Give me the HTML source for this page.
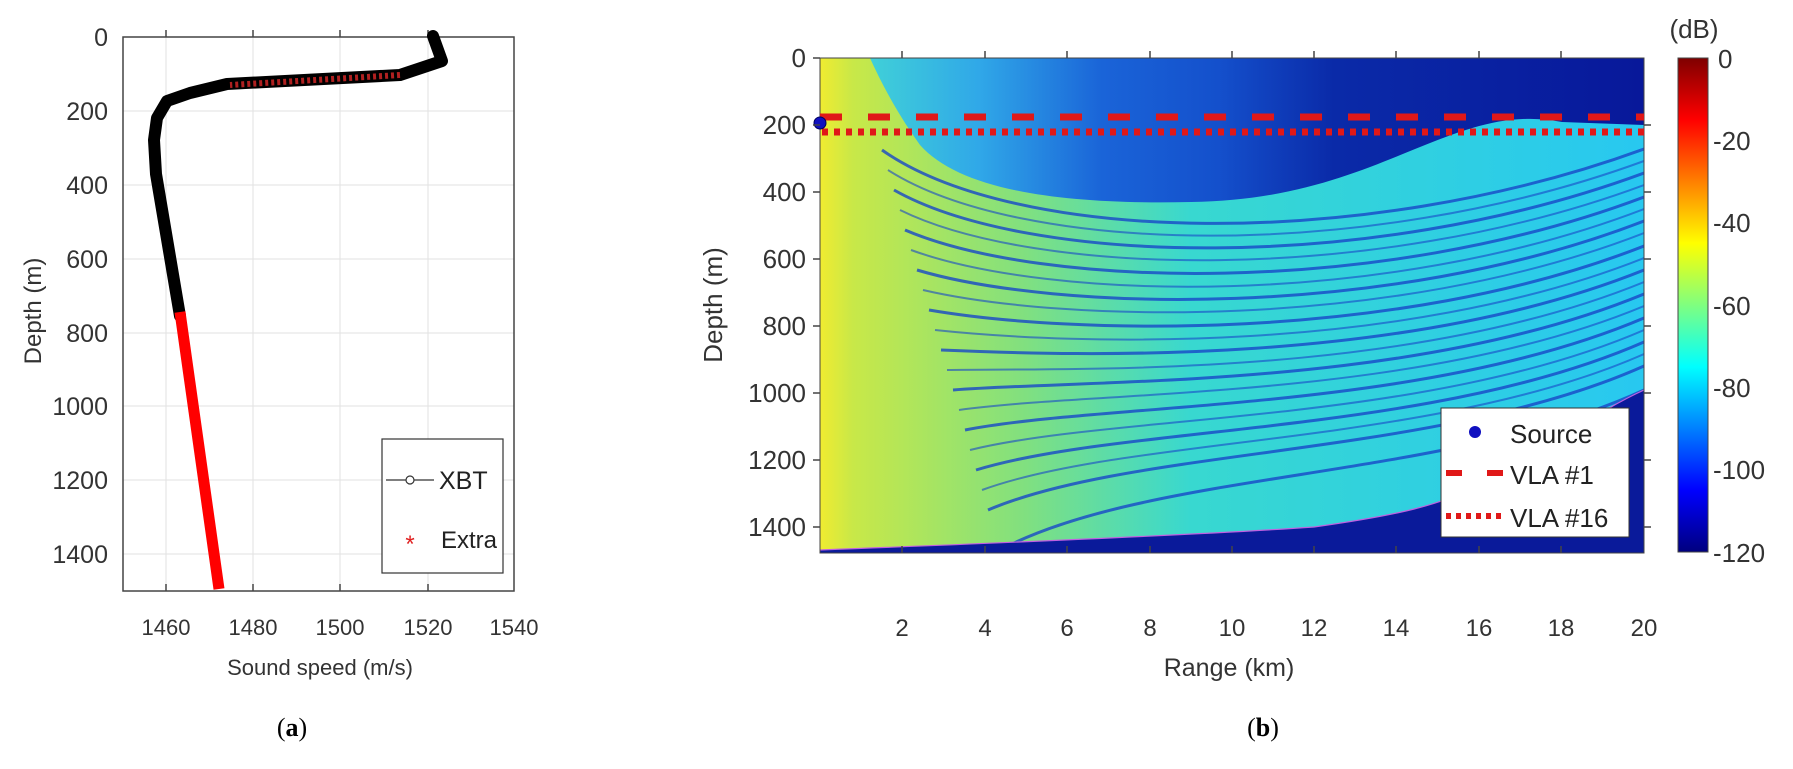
<!DOCTYPE html>
<html><head><meta charset="utf-8"><style>
html,body{margin:0;padding:0;background:#fff;}
svg{display:block;font-family:"Liberation Sans",Arial,sans-serif;}
</style></head><body>
<svg width="1793" height="769" viewBox="0 0 1793 769" xmlns="http://www.w3.org/2000/svg">
<defs>
<linearGradient id="jet" x1="0" y1="0" x2="0" y2="1">
<stop offset="0" stop-color="#7f0000"/><stop offset="0.125" stop-color="#ff0000"/>
<stop offset="0.375" stop-color="#ffff00"/><stop offset="0.625" stop-color="#00ffff"/>
<stop offset="0.875" stop-color="#0000ff"/><stop offset="1" stop-color="#00007f"/>
</linearGradient>
<linearGradient id="field" x1="0" y1="0" x2="1" y2="0">
<stop offset="0" stop-color="#f0ec30"/><stop offset="0.04" stop-color="#c8e848"/>
<stop offset="0.25" stop-color="#80e080"/><stop offset="0.45" stop-color="#38d8d0"/>
<stop offset="1" stop-color="#28c8f0"/>
</linearGradient>
<linearGradient id="topblue" x1="0" y1="0" x2="1" y2="0">
<stop offset="0" stop-color="#40d0d8"/><stop offset="0.14" stop-color="#30a8e8"/>
<stop offset="0.3" stop-color="#1a64d8"/><stop offset="0.45" stop-color="#1450cc"/>
<stop offset="0.6" stop-color="#0a2aa8"/><stop offset="1" stop-color="#08189a"/>
</linearGradient>
<clipPath id="cp"><rect x="820" y="58" width="824" height="495"/></clipPath>
</defs>

<!-- ===== Left plot (a) ===== -->
<g stroke="#e2e2e2" stroke-width="1">
<line x1="166" y1="37" x2="166" y2="591"/><line x1="253" y1="37" x2="253" y2="591"/>
<line x1="340" y1="37" x2="340" y2="591"/><line x1="428" y1="37" x2="428" y2="591"/>
<line x1="123" y1="111" x2="514" y2="111"/><line x1="123" y1="185" x2="514" y2="185"/>
<line x1="123" y1="259" x2="514" y2="259"/><line x1="123" y1="333" x2="514" y2="333"/>
<line x1="123" y1="406" x2="514" y2="406"/><line x1="123" y1="480" x2="514" y2="480"/>
<line x1="123" y1="554" x2="514" y2="554"/>
</g>
<rect x="123" y="37" width="391" height="554" fill="none" stroke="#444" stroke-width="1.5"/>
<g stroke="#444" stroke-width="1.5">
<line x1="166" y1="37" x2="166" y2="30"/><line x1="253" y1="37" x2="253" y2="30"/><line x1="340" y1="37" x2="340" y2="30"/><line x1="428" y1="37" x2="428" y2="30"/>
<line x1="166" y1="591" x2="166" y2="584"/><line x1="253" y1="591" x2="253" y2="584"/><line x1="340" y1="591" x2="340" y2="584"/><line x1="428" y1="591" x2="428" y2="584"/>
</g>
<polyline points="433,36 442,61 400,75 227,84 190,93 167,101 157,118 154,140 156,174 168,245 180,316" fill="none" stroke="#000" stroke-width="12" stroke-linejoin="round" stroke-linecap="round"/>
<polyline points="400,75 230,85" fill="none" stroke="#b02020" stroke-width="6" stroke-dasharray="3 3"/>
<line x1="180" y1="312" x2="219" y2="589" stroke="#ff0000" stroke-width="11"/>
<g font-size="25" fill="#333" text-anchor="end">
<text x="108" y="46">0</text><text x="108" y="120">200</text><text x="108" y="194">400</text>
<text x="108" y="268">600</text><text x="108" y="342">800</text><text x="108" y="415">1000</text>
<text x="108" y="489">1200</text><text x="108" y="563">1400</text>
</g>
<g font-size="22" fill="#333" text-anchor="middle">
<text x="166" y="635">1460</text><text x="253" y="635">1480</text><text x="340" y="635">1500</text>
<text x="428" y="635">1520</text><text x="514" y="635">1540</text>
</g>
<text x="320" y="675" font-size="22" fill="#333" text-anchor="middle">Sound speed (m/s)</text>
<text transform="translate(41,311) rotate(-90)" font-size="24" fill="#333" text-anchor="middle">Depth (m)</text>
<rect x="382" y="439" width="121" height="134" fill="#fff" stroke="#333" stroke-width="1.2"/>
<line x1="386" y1="480" x2="434" y2="480" stroke="#333" stroke-width="1.2"/>
<circle cx="410" cy="480" r="4" fill="#fff" stroke="#333" stroke-width="1.2"/>
<text x="439" y="489" font-size="25" fill="#222">XBT</text>
<text x="410" y="552" font-size="24" fill="#e02020" text-anchor="middle">*</text>
<text x="441" y="548" font-size="24" fill="#222">Extra</text>

<!-- ===== Right plot (b) ===== -->
<g clip-path="url(#cp)">
<rect x="820" y="58" width="824" height="495" fill="url(#field)"/>
<path d="M870,58 L1644,58 L1644,125 L1562,122 C1450,100 1380,200 1191,202 C1060,205 960,190 920,145 C895,110 880,80 870,58 Z" fill="url(#topblue)"/>
<g fill="none" stroke="#1848c8" stroke-width="3" opacity="0.8">
<path d="M882,150 C1014,243 1359,253 1644,149"/>
<path d="M894,190 C1027,265 1368,275 1644,173"/>
<path d="M905,230 C1041,288 1377,298 1644,197"/>
<path d="M917,270 C1055,311 1386,321 1644,221"/>
<path d="M929,310 C1068,334 1395,344 1644,246"/>
<path d="M941,350 C1082,356 1405,366 1644,270"/>
<path d="M953,390 C1095,379 1414,389 1644,294"/>
<path d="M965,430 C1109,402 1423,412 1644,318"/>
<path d="M976,470 C1123,425 1432,435 1644,342"/>
<path d="M988,510 C1136,447 1441,457 1644,366"/>
<path d="M1000,550 C1150,470 1450,480 1644,390"/>
</g>
<g fill="none" stroke="#1848c8" stroke-width="2" opacity="0.6">
<path d="M888,170 C1020,254 1363,264 1644,161"/>
<path d="M900,210 C1034,276 1372,286 1644,185"/>
<path d="M911,250 C1048,300 1381,310 1644,209"/>
<path d="M923,290 C1061,322 1390,332 1644,233"/>
<path d="M935,330 C1075,345 1400,355 1644,258"/>
<path d="M947,370 C1088,368 1409,378 1644,282"/>
<path d="M959,410 C1102,390 1418,400 1644,306"/>
<path d="M970,450 C1116,414 1427,424 1644,330"/>
<path d="M982,490 C1130,436 1436,446 1644,354"/>
</g>
<path d="M820,553 L820,550 C950,545 1200,535 1314,527 C1400,515 1440,505 1480,485 C1560,440 1600,410 1644,390 L1644,553 Z" fill="#0a1a9a"/>
<path d="M820,550 C950,545 1200,535 1314,527 C1400,515 1440,505 1480,485 C1560,440 1600,410 1644,390" fill="none" stroke="#c060e0" stroke-width="1.2"/>
</g>
<rect x="820" y="58" width="824" height="495" fill="none" stroke="#444" stroke-width="1"/>
<line x1="820" y1="117" x2="1644" y2="117" stroke="#e01818" stroke-width="7" stroke-dasharray="22 26"/>
<line x1="822" y1="132" x2="1644" y2="132" stroke="#e01818" stroke-width="7" stroke-dasharray="6 6"/>
<circle cx="820" cy="123" r="6" fill="#1010c0" stroke="#000060" stroke-width="1"/>
<g stroke="#444" stroke-width="1.5">
<line x1="902" y1="553" x2="902" y2="546"/><line x1="985" y1="553" x2="985" y2="546"/><line x1="1067" y1="553" x2="1067" y2="546"/>
<line x1="1150" y1="553" x2="1150" y2="546"/><line x1="1232" y1="553" x2="1232" y2="546"/><line x1="1314" y1="553" x2="1314" y2="546"/>
<line x1="1396" y1="553" x2="1396" y2="546"/><line x1="1479" y1="553" x2="1479" y2="546"/><line x1="1561" y1="553" x2="1561" y2="546"/>
<line x1="902" y1="58" x2="902" y2="51"/><line x1="985" y1="58" x2="985" y2="51"/><line x1="1067" y1="58" x2="1067" y2="51"/>
<line x1="1150" y1="58" x2="1150" y2="51"/><line x1="1232" y1="58" x2="1232" y2="51"/><line x1="1314" y1="58" x2="1314" y2="51"/>
<line x1="1396" y1="58" x2="1396" y2="51"/><line x1="1479" y1="58" x2="1479" y2="51"/><line x1="1561" y1="58" x2="1561" y2="51"/>
<line x1="813" y1="58" x2="820" y2="58"/><line x1="813" y1="125" x2="820" y2="125"/><line x1="813" y1="192" x2="820" y2="192"/>
<line x1="813" y1="259" x2="820" y2="259"/><line x1="813" y1="326" x2="820" y2="326"/><line x1="813" y1="393" x2="820" y2="393"/>
<line x1="813" y1="460" x2="820" y2="460"/><line x1="813" y1="527" x2="820" y2="527"/>
<line x1="1644" y1="125" x2="1651" y2="125"/><line x1="1644" y1="192" x2="1651" y2="192"/><line x1="1644" y1="259" x2="1651" y2="259"/>
<line x1="1644" y1="326" x2="1651" y2="326"/><line x1="1644" y1="393" x2="1651" y2="393"/><line x1="1644" y1="460" x2="1651" y2="460"/><line x1="1644" y1="527" x2="1651" y2="527"/>
</g>
<g font-size="26" fill="#333" text-anchor="end">
<text x="806" y="67">0</text><text x="806" y="134">200</text><text x="806" y="201">400</text>
<text x="806" y="268">600</text><text x="806" y="335">800</text><text x="806" y="402">1000</text>
<text x="806" y="469">1200</text><text x="806" y="536">1400</text>
</g>
<g font-size="24" fill="#333" text-anchor="middle">
<text x="902" y="636">2</text><text x="985" y="636">4</text><text x="1067" y="636">6</text>
<text x="1150" y="636">8</text><text x="1232" y="636">10</text><text x="1314" y="636">12</text>
<text x="1396" y="636">14</text><text x="1479" y="636">16</text><text x="1561" y="636">18</text><text x="1644" y="636">20</text>
</g>
<text x="1229" y="676" font-size="25" fill="#333" text-anchor="middle">Range (km)</text>
<text transform="translate(722,305) rotate(-90)" font-size="26" fill="#333" text-anchor="middle">Depth (m)</text>
<rect x="1441" y="408" width="188" height="129" fill="#fff" stroke="#333" stroke-width="1"/>
<circle cx="1475" cy="432" r="6" fill="#1010c0"/>
<text x="1510" y="443" font-size="26" fill="#222">Source</text>
<line x1="1446" y1="473" x2="1503" y2="473" stroke="#e01818" stroke-width="6" stroke-dasharray="16 25"/>
<text x="1510" y="484" font-size="26" fill="#222">VLA #1</text>
<line x1="1446" y1="516" x2="1506" y2="516" stroke="#e01818" stroke-width="6" stroke-dasharray="5 5"/>
<text x="1510" y="527" font-size="26" fill="#222">VLA #16</text>
<rect x="1678" y="58" width="30" height="494" fill="url(#jet)" stroke="#444" stroke-width="1"/>
<g font-size="26" fill="#333">
<text x="1718" y="68">0</text><text x="1713" y="150">-20</text><text x="1713" y="232">-40</text>
<text x="1713" y="315">-60</text><text x="1713" y="397">-80</text><text x="1713" y="479">-100</text><text x="1713" y="562">-120</text>
</g>
<text x="1694" y="38" font-size="26" fill="#333" text-anchor="middle">(dB)</text>

<text x="292" y="736" font-size="26" font-family="Liberation Serif,serif" text-anchor="middle">(<tspan font-weight="bold">a</tspan>)</text>
<text x="1263" y="736" font-size="26" font-family="Liberation Serif,serif" text-anchor="middle">(<tspan font-weight="bold">b</tspan>)</text>
</svg>
</body></html>
